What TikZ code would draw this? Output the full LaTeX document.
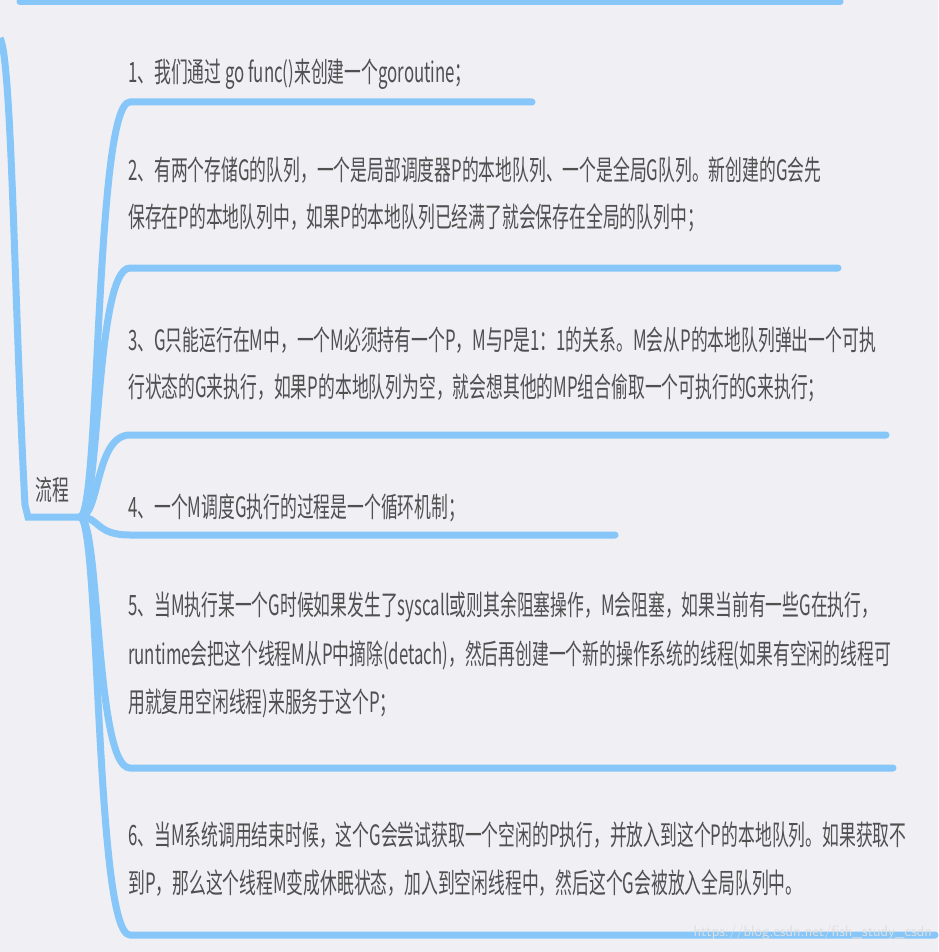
\documentclass[tikz,border=0pt]{standalone}
\usepackage{fontspec}
\usepackage{graphicx}
\newfontfamily\cjk{Noto Sans CJK SC}
\definecolor{bg}{HTML}{EFEFF4}
\definecolor{ln}{HTML}{86C6F8}
\definecolor{tx}{HTML}{505050}
\newcommand{\narrowtxt}[1]{\scalebox{0.6}[1.0]{#1}}
\begin{document}
\begin{tikzpicture}[x=1pt,y=-1pt,
  txt/.style={anchor=west,inner sep=0pt,text=tx,font=\cjk\fontsize{28}{28}\selectfont},
  br/.style={draw=ln,line width=7pt,line cap=round}]
\fill[bg] (0,0) rectangle (938,952);
\useasboundingbox (0,0) rectangle (938,952);
\draw[br] (20,2) -- (840,2);
\coordinate (hub) at (80,517);
\draw[br,line cap=butt] (0,38) .. controls (12,60) and (14,300) .. (25,505) -- (28,517) -- (hub);
\node[txt] (lc) at (35,490) {\narrowtxt{流程}};
\foreach \n/\y/\e in {a/102/532,b/268/838,c/435/886,d/535/615,e/768/893,f/935/935}{
  \coordinate (s\n) at (130,\y); \coordinate (t\n) at (\e,\y);
  \draw[br] (hub) .. controls (100,517) and (95,\y) .. (s\n) -- (t\n);
}
\node[txt] (t1) at (128,74) {\narrowtxt{1、我们通过 go func()来创建一个goroutine；}};
\node[txt] (t2a) at (128,170) {\narrowtxt{2、有两个存储G的队列，一个是局部调度器P的本地队列、一个是全局G队列。新创建的G会先}};
\node[txt] (t2b) at (128,218) {\narrowtxt{保存在P的本地队列中，如果P的本地队列已经满了就会保存在全局的队列中；}};
\node[txt] (t3a) at (128,340) {\narrowtxt{3、G只能运行在M中，一个M必须持有一个P，M与P是1：1的关系。M会从P的本地队列弹出一个可执}};
\node[txt] (t3b) at (128,388) {\narrowtxt{行状态的G来执行，如果P的本地队列为空，就会想其他的MP组合偷取一个可执行的G来执行；}};
\node[txt] (t4) at (128,508) {\narrowtxt{4、一个M调度G执行的过程是一个循环机制；}};
\node[txt] (t5a) at (128,607) {\narrowtxt{5、当M执行某一个G时候如果发生了syscall或则其余阻塞操作，M会阻塞，如果当前有一些G在执行，}};
\node[txt] (t5b) at (128,655) {\narrowtxt{runtime会把这个线程M从P中摘除(detach)，然后再创建一个新的操作系统的线程(如果有空闲的线程可}};
\node[txt] (t5c) at (128,703) {\narrowtxt{用就复用空闲线程)来服务于这个P；}};
\node[txt] (t6a) at (128,835) {\narrowtxt{6、当M系统调用结束时候，这个G会尝试获取一个空闲的P执行，并放入到这个P的本地队列。如果获取不}};
\node[txt] (t6b) at (128,883) {\narrowtxt{到P，那么这个线程M变成休眠状态，加入到空闲线程中，然后这个G会被放入全局队列中。}};
\node[anchor=east,inner sep=0pt,text=white!75!gray,font=\fontsize{15}{15}\selectfont\sffamily] (wm) at (932,933) {https://blog.csdn.net/fish\_study\_csdn};
\end{tikzpicture}
\end{document}
